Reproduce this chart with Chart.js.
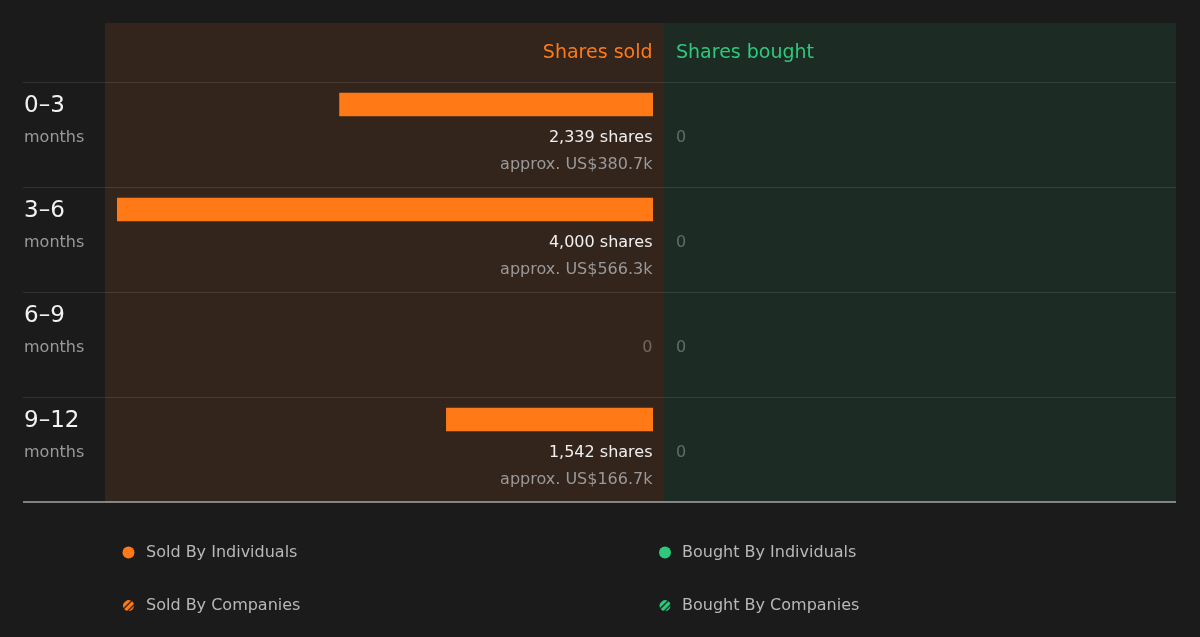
<!DOCTYPE html>
<html>
<head>
<meta charset="utf-8">
<script src="https://cdn.jsdelivr.net/npm/chart.js@4.4.0/dist/chart.umd.min.js"></script>
<style>
  html, body { margin: 0; padding: 0; background: #1b1b1b; }
  #wrap { width: 1200px; height: 637px; position: relative; }
</style>
</head>
<body>
<div id="wrap"><canvas id="insiderChart"></canvas></div>
<script>
// periods (rows) and values
const periods = ['0–3', '3–6', '6–9', '9–12'];
const periodUnit = 'months';
const soldShares = [2339, 4000, 0, 1542];
const soldValue = ['US$380.7k', 'US$566.3k', '', 'US$166.7k'];
const boughtShares = [0, 0, 0, 0];
const legendLabels = ['Sold By Individuals', 'Bought By Individuals', 'Sold By Companies', 'Bought By Companies'];

const ORANGE = '#ff7a17';
const GREEN = '#2ec97a';
const FONT = '"DejaVu Sans", sans-serif';

function stripedDot(ctx, cx, cy, r, color, dark) {
  ctx.save();
  ctx.beginPath();
  ctx.arc(cx, cy, r, 0, Math.PI * 2);
  ctx.clip();
  ctx.fillStyle = dark;
  ctx.fillRect(cx - r, cy - r, r * 2, r * 2);
  ctx.strokeStyle = color;
  ctx.lineWidth = 3;
  for (let k = -1; k <= 1; k++) {
    const off = k * 6.4 + 1.6;
    ctx.beginPath();
    ctx.moveTo(cx - 2 * r + off, cy + 2 * r);
    ctx.lineTo(cx + 2 * r + off, cy - 2 * r);
    ctx.stroke();
  }
  ctx.restore();
}

const insiderPanels = {
  id: 'insiderPanels',
  beforeDatasetsDraw(chart) {
    const { ctx, scales: { x, y } } = chart;
    const zero = x.getPixelForValue(0);
    const full = x.getPixelForValue(4000);
    const split = zero + 11;
    const firstLine = y.getPixelForValue(0) - 22.5;
    const bottom = y.getPixelForValue(periods.length - 1) + 82.5;
    const top = firstLine - 59;
    ctx.save();
    ctx.fillStyle = '#33241c';
    ctx.fillRect(full - 12, top, split - (full - 12), bottom - top);
    ctx.fillStyle = '#1c2b24';
    ctx.fillRect(split, top, 1176 - split, bottom - top);

    ctx.fillStyle = 'rgba(255,255,255,0.1)';
    periods.forEach((p, i) => {
      const ly = Math.round(y.getPixelForValue(i) - 22.5);
      ctx.fillRect(23, ly, 1176 - 23, 1);
    });
    ctx.fillStyle = 'rgba(255,255,255,0.45)';
    ctx.fillRect(23, bottom - 1, 1176 - 23, 2);
    ctx.restore();
  },
  afterDatasetsDraw(chart) {
    const { ctx, scales: { x, y } } = chart;
    const zero = x.getPixelForValue(0);
    const labelR = zero - 0.5;
    const boughtL = zero + 23;
    const firstLine = y.getPixelForValue(0) - 22.5;
    const bottom = y.getPixelForValue(periods.length - 1) + 82.5;
    ctx.save();
    ctx.textBaseline = 'alphabetic';

    // headers
    ctx.font = '19px ' + FONT;
    ctx.textAlign = 'right';
    ctx.fillStyle = ORANGE;
    ctx.fillText('Shares sold', labelR, firstLine - 24);
    ctx.textAlign = 'left';
    ctx.fillStyle = GREEN;
    ctx.fillText('Shares bought', boughtL, firstLine - 24);

    periods.forEach((p, i) => {
      const c = y.getPixelForValue(i);
      ctx.textAlign = 'left';
      ctx.font = '23px ' + FONT;
      ctx.fillStyle = '#f2f2f2';
      ctx.fillText(p, 24, c + 7.5);
      ctx.font = '16px ' + FONT;
      ctx.fillStyle = '#9a9a9a';
      ctx.fillText(periodUnit, 24, c + 37);

      // sold labels
      ctx.textAlign = 'right';
      if (soldShares[i] > 0) {
        ctx.fillStyle = '#f0f0f0';
        ctx.fillText(soldShares[i].toLocaleString('en-US') + ' shares', labelR, c + 37.5);
        ctx.fillStyle = '#9a9a9a';
        ctx.fillText('approx. ' + soldValue[i], labelR, c + 64);
      } else {
        ctx.fillStyle = 'rgba(255,255,255,0.3)';
        ctx.fillText('0', labelR, c + 37.5);
      }

      // bought labels
      ctx.textAlign = 'left';
      ctx.fillStyle = 'rgba(255,255,255,0.3)';
      ctx.fillText(boughtShares[i] > 0 ? boughtShares[i].toLocaleString('en-US') + ' shares' : '0', boughtL, c + 37.5);
    });

    // legend
    const cols = [[128.5, 146], [665, 682]];
    const rows = [bottom + 55, bottom + 108];
    ctx.font = '16px ' + FONT;
    ctx.textAlign = 'left';
    legendLabels.forEach((lbl, k) => {
      const [cx, tx] = cols[k % 2];
      const by = rows[Math.floor(k / 2)];
      const color = k % 2 === 0 ? ORANGE : GREEN;
      if (k < 2) {
        ctx.beginPath();
        ctx.arc(cx, by - 4.5, 6, 0, Math.PI * 2);
        ctx.fillStyle = color;
        ctx.fill();
      } else {
        stripedDot(ctx, cx, by - 4.5, 5.5, color, k % 2 === 0 ? '#4a2e17' : '#1a3d2b');
      }
      ctx.fillStyle = '#b8b8b8';
      ctx.fillText(lbl, tx, by);
    });
    ctx.restore();
  }
};

const canvas = document.getElementById('insiderChart');
new Chart(canvas, {
  type: 'bar',
  data: {
    labels: periods,
    datasets: [{
      label: 'Sold By Individuals',
      data: soldShares.map(v => (v > 0 ? v : null)),
      backgroundColor: ORANGE,
      borderWidth: 0,
      barThickness: 23
    }]
  },
  options: {
    indexAxis: 'y',
    responsive: true,
    maintainAspectRatio: false,
    animation: false,
    layout: { padding: { left: 117, right: 547, top: 52, bottom: 165 } },
    scales: {
      x: { reverse: true, min: 0, max: 4000, display: false },
      y: { display: false, offset: true }
    },
    plugins: {
      legend: { display: false },
      tooltip: { enabled: false }
    }
  },
  plugins: [insiderPanels]
});
</script>
</body>
</html>
